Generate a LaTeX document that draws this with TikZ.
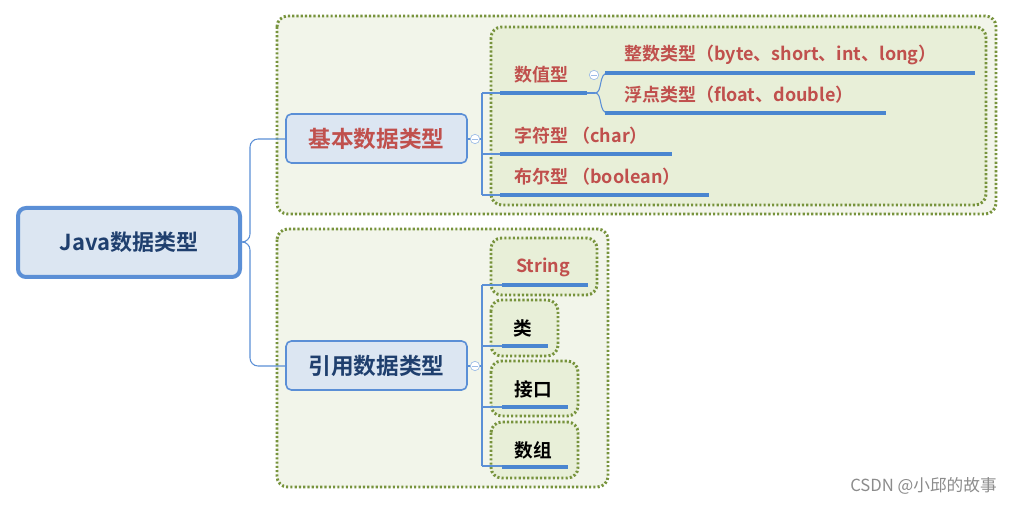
\documentclass[tikz,border=0pt]{standalone}
\usepackage{fontspec}
\setmainfont{Noto Sans CJK SC}
\newfontfamily\cjkb{Noto Sans CJK SC Bold}
\definecolor{grpfill}{HTML}{F2F5EA}
\definecolor{infill}{HTML}{E8EFD8}
\definecolor{olive}{HTML}{77933C}
\definecolor{bfill}{HTML}{DCE6F2}
\definecolor{bline}{HTML}{5B8FD6}
\definecolor{uline}{HTML}{4A86D0}
\definecolor{redt}{HTML}{C0504D}
\definecolor{navy}{HTML}{1F3F6E}
\begin{document}
\begin{tikzpicture}[x=0.75pt,y=-0.75pt,
  grp/.style={draw=olive,line width=2.2pt,dash pattern=on 1.6pt off 1.6pt,rounded corners=8pt},
  topic/.style={draw=bline,line width=1.2pt,fill=bfill,rounded corners=4pt},
  ul/.style={uline,line width=3pt},
  conn/.style={draw=bline,line width=0.8pt},
  lab/.style={font=\cjkb\fontsize{13.5}{15}\selectfont,text=redt,anchor=west,inner sep=0},
  blk/.style={font=\cjkb\fontsize{14}{16}\selectfont,text=black,inner sep=0},
  minus/.style={draw=bline!60,fill=white,circle,inner sep=0,minimum size=7pt,line width=0.5pt,
    path picture={\draw[bline!60,line width=0.5pt] ([xshift=-2pt]path picture bounding box.center) -- ([xshift=2pt]path picture bounding box.center);}}]
\useasboundingbox (0,0) rectangle (1013,505);
\fill[white] (0,0) rectangle (1013,505);
% groups
\draw[grp,fill=grpfill] (277,16) rectangle (996,214);
\draw[grp,fill=infill] (491,27) rectangle (986,205);
\draw[grp,fill=grpfill] (277,229) rectangle (608,487);
\draw[grp,fill=infill] (491,238) rectangle (597,295);
\draw[grp,fill=infill] (491,300) rectangle (558,356);
\draw[grp,fill=infill] (491,361) rectangle (578,416);
\draw[grp,fill=infill] (491,422) rectangle (578,478);
% root
\draw[draw=bline,line width=3pt,fill=bfill,rounded corners=6pt] (18,208) rectangle (240,277);
\node[font=\cjkb\fontsize{16.5}{18}\selectfont,text=navy] (root) at (129,242.5) {Java数据类型};
\coordinate (rootR) at (240,242);
% level 1
\draw[topic] (286,114) rectangle (467,163);
\node[font=\cjkb\fontsize{17}{18}\selectfont,text=redt] (basic) at (376.5,139) {基本数据类型};
\draw[topic] (286,341) rectangle (467,390);
\node[font=\cjkb\fontsize{17}{18}\selectfont,text=navy] (ref) at (376.5,366) {引用数据类型};
\draw[conn,rounded corners=6pt] (rootR) -- (250,242) |- (286,139);
\draw[conn,rounded corners=6pt] (rootR) -- (250,242) |- (286,366);
% top branch
\draw[conn] (467,139) -- (482,139);
\draw[conn] (482,93) -- (482,195);
\draw[conn] (482,93) -- (500,93);
\draw[conn] (482,154) -- (500,154);
\draw[conn] (482,195) -- (500,195);
\node[minus] (m1) at (475,139) {};
\draw[ul] (500,93) -- (587,93);
\draw[ul] (500,154) -- (672,154);
\draw[ul] (500,195) -- (709,195);
\node[lab] (num) at (514,75) {数值型};
\node[lab] (chr) at (514,136) {字符型 （char）};
\node[lab] (bool) at (514,177) {布尔型 （boolean）};
\draw[conn] (587,93) -- (595,93);
\draw[conn] (595,93) .. controls (603,93) and (598,73) .. (608,73);
\draw[conn] (595,93) .. controls (603,93) and (598,113) .. (608,113);
\node[minus] (m2) at (594,75) {};
\draw[ul] (605,73) -- (975,73);
\draw[ul] (605,113) -- (886,113);
\node[lab] (int) at (624,55) {整数类型（byte、short、int、long）};
\node[lab] (flt) at (624,95) {浮点类型（float、double）};
% bottom branch
\draw[conn] (467,366) -- (482,366);
\draw[conn] (482,285) -- (482,466);
\foreach \y in {285,346,407,466} \draw[conn] (482,\y) -- (502,\y);
\node[minus] (m3) at (475,366) {};
\draw[ul] (502,285) -- (588,285);
\draw[ul] (502,346) -- (548,346);
\draw[ul] (502,407) -- (568,407);
\draw[ul] (502,467) -- (568,467);
\node[lab,anchor=center] (str) at (543,267) {String};
\node[blk] (cls) at (523,328) {类};
\node[blk] (ifc) at (533,389) {接口};
\node[blk] (arr) at (533,450) {数组};
% watermark
\node[font=\fontsize{12.5}{14}\selectfont,text=black!45,anchor=east,inner sep=0] (wm) at (997,486) {CSDN @小邱的故事};
\end{tikzpicture}
\end{document}
